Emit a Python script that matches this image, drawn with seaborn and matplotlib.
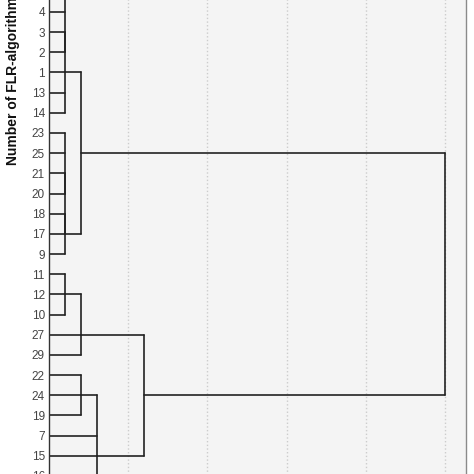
import numpy as np
import pandas as pd
import seaborn as sns
import matplotlib.pyplot as plt

# leaf order, top to bottom (the top/bottom ones are cropped off in the figure)
leaf_labels = ["5", "4", "3", "2", "1", "13", "14", "23", "25", "21", "20", "18",
               "17", "9", "11", "12", "10", "27", "29", "22", "24", "19", "7",
               "15", "16", "26", "28"]

# agglomeration steps: cluster name, members, rescaled distance
merge_names = ["A", "TopA", "B1", "B2", "B3", "Top", "C1", "C2", "D1", "E", "D",
               "Bottom", "Root"]
merge_children = [
    ["5", "4", "3", "2"],
    ["A", "1", "13", "14"],
    ["23", "25", "21", "20"],
    ["B1", "18", "17"],
    ["B2", "9"],
    ["TopA", "B3"],
    ["11", "12", "10"],
    ["C1", "27", "29"],
    ["22", "24", "19"],
    ["16", "26", "28"],
    ["D1", "7", "15", "E"],
    ["C2", "D"],
    ["Top", "Bottom"],
]
merge_dist = [1, 1, 1, 1, 1, 2, 1, 2, 2, 1, 3, 6, 25]

# build SPSS style dendrogram segments
pos = {lab: (float(i), 0.0) for i, lab in enumerate(leaf_labels)}
segs = []
for name, kids, d in zip(merge_names, merge_children, merge_dist):
    rows = [pos[k][0] for k in kids]
    for k in kids:
        r, kd = pos[k]
        segs.append((kd, r, d, r))
    segs.append((d, min(rows), d, max(rows)))
    mid = np.floor((min(rows) + max(rows)) / 2 + 0.5)
    pos[name] = (mid, float(d))

recs = []
for i, (x0, y0, x1, y1) in enumerate(segs):
    recs.append({"seg": i, "x": x0, "y": y0})
    recs.append({"seg": i, "x": x1, "y": y1})
df = pd.DataFrame(recs)

sns.set_style("white")
plt.rcParams["font.family"] = ["Liberation Sans", "DejaVu Sans"]

fig = plt.figure(figsize=(4.74, 4.74), dpi=100)
fig.patch.set_facecolor("white")
ax = fig.add_axes([49 / 474, -0.1743, 417 / 474, 1.2129])
ax.set_facecolor("#f4f4f4")

sns.lineplot(data=df, x="x", y="y", units="seg", estimator=None, sort=False,
             color="#222222", lw=1.2, ax=ax, legend=False)

ax.set_xlim(0, 26.33)
ax.set_ylim(len(leaf_labels) + 1, -0.5)
ax.set_xticks([5, 10, 15, 20, 25])
ax.set_xticklabels([])
ax.grid(axis="x", color="#cccccc", linestyle=":", lw=1.0)
ax.grid(axis="y", visible=False)
ax.set_yticks(range(len(leaf_labels)))
ax.set_yticklabels(leaf_labels, family=["Liberation Sans Narrow", "Liberation Sans", "DejaVu Sans"])
ax.tick_params(axis="y", length=0, pad=3, labelsize=8.5, labelcolor="#444444")
ax.tick_params(axis="x", length=0)
ax.set_xlabel("")
ax.set_ylabel("")
ax.spines["left"].set_color("#333333")
ax.spines["left"].set_linewidth(1.0)
ax.spines["right"].set_color("#8a8a8a")
ax.spines["right"].set_linewidth(1.0)

fig.text(13 / 474, 1 - 165 / 474, "Number of FLR-algorithm", rotation=90,
         ha="center", va="bottom", fontsize=10, fontweight="bold", color="#111111")

plt.savefig("out.png", dpi=100)
